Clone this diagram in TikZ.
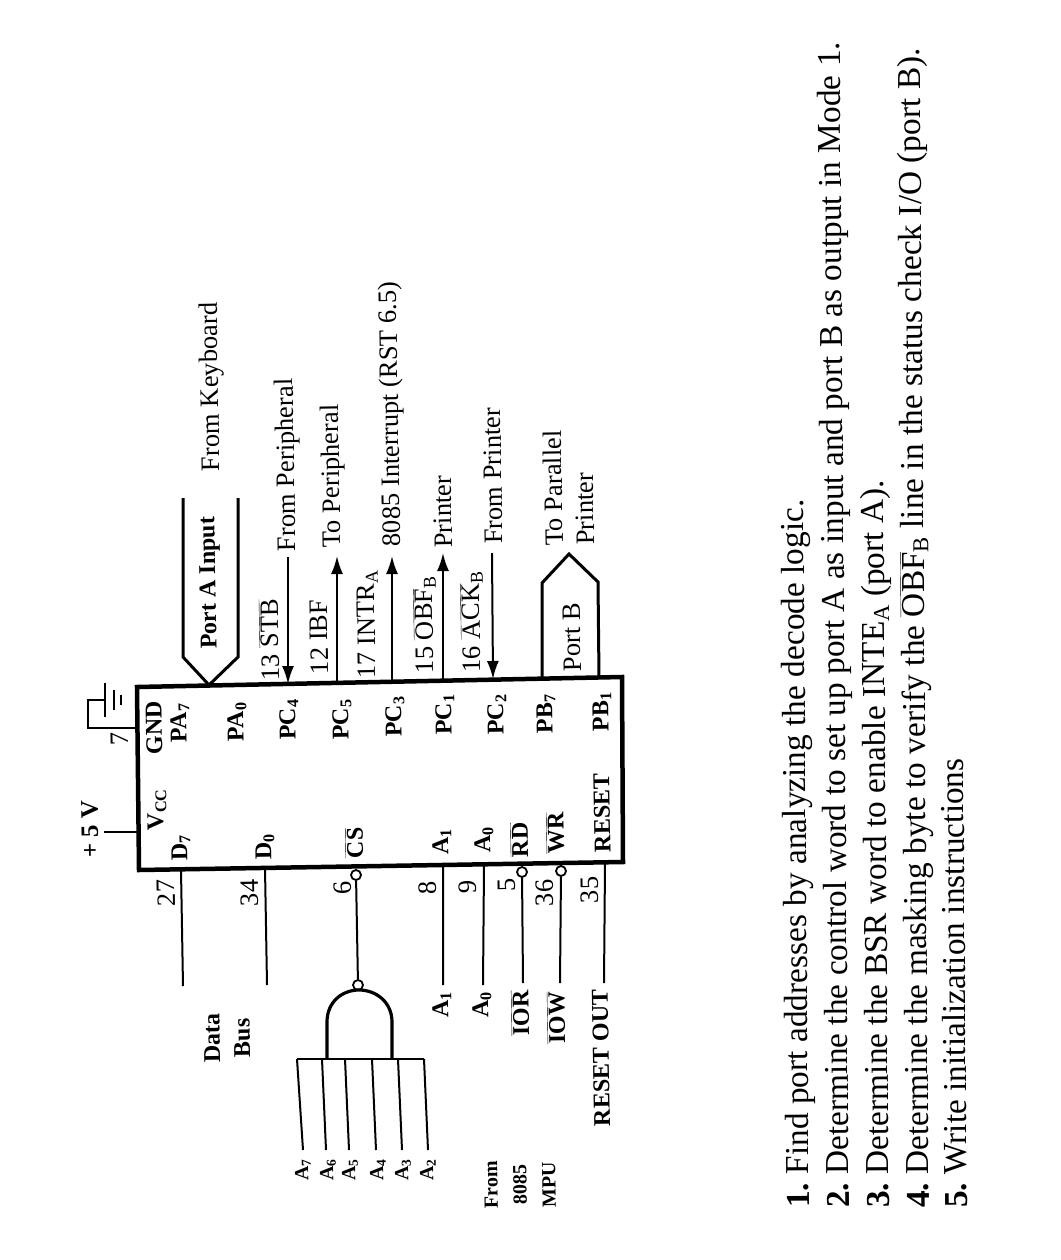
\documentclass[tikz,border=0pt]{standalone}
\usepackage{graphicx}
\usepackage{fontspec}
\setmainfont{Liberation Serif}
\usetikzlibrary{arrows.meta}
\newcommand\sbt[1]{\raisebox{-0.3ex}{\scalebox{0.68}{#1}}}
\newcommand\ovl[1]{$\overline{\hbox{#1}}$}
\tikzset{
  lab/.style={rotate=91,inner sep=0pt,font=\fontsize{26.5}{30}\selectfont},
  blab/.style={lab,font=\fontsize{24}{28}\selectfont\bfseries},
  slab/.style={lab,font=\fontsize{20}{24}\selectfont\bfseries},
  item/.style={rotate=90.45,inner sep=0pt,anchor=base west,font=\fontsize{33.4}{38}\selectfont},
  wire/.style={line width=2pt},
  bus/.style={line width=3pt,line join=miter},
  chip/.style={line width=4.5pt,line join=miter},
  arr/.style={wire,-{Latex[length=18pt,width=12pt]}},
  bub/.style={circle,draw,line width=1.8pt,fill=white,inner sep=0pt,minimum size=10pt},
}
\begin{document}
\begin{tikzpicture}[x=1pt,y=-1pt]
\path[use as bounding box,fill=white] (0,0) rectangle (1060,1260);
% chip
\coordinate (b1) at (137,687); \coordinate (b2) at (622,677);
\coordinate (b3) at (623,862); \coordinate (b4) at (139,870);
\draw[chip] (b1) -- (b2) -- (b3) -- (b4) -- cycle;
% power and ground
\coordinate (vccpin) at (137,832); \coordinate (vcc5) at (104,832);
\draw[wire] (vcc5) -- (vccpin);
\node[lab,font=\fontsize{25}{28}\selectfont\bfseries] (plus5) at (90,829) {+ 5 V};
\coordinate (gp) at (135,728); \coordinate (g1) at (88,728); \coordinate (g2) at (88,700); \coordinate (g3) at (105,700);
\draw[line width=2.2pt] (gp) -- (g1) -- (g2) -- (g3);
\coordinate (ga1) at (105,683); \coordinate (ga2) at (105,717);
\coordinate (gb1) at (114,690); \coordinate (gb2) at (114,710);
\coordinate (gc1) at (121,695); \coordinate (gc2) at (121,705);
\draw[line width=2.6pt] (ga1) -- (ga2) (gb1) -- (gb2) (gc1) -- (gc2);
\node[lab] (n7) at (120,739) {7};
% chip labels, right side
\node[blab] (lgnd) at (154,728) {GND};
\node[blab] (lpa7) at (180,723) {PA\sbt{7}};
\node[blab] (lpa0) at (237,722) {PA\sbt{0}};
\node[blab] (lpc4) at (289,720) {PC\sbt{4}};
\node[blab] (lpc5) at (342,720) {PC\sbt{5}};
\node[blab] (lpc3) at (395,717) {PC\sbt{3}};
\node[blab] (lpc1) at (445,715) {PC\sbt{1}};
\node[blab] (lpc2) at (497,715) {PC\sbt{2}};
\node[blab] (lpb7) at (546,714) {PB\sbt{7}};
\node[blab] (lpb1) at (602,712) {PB\sbt{1}};
% chip labels, left side
\node[blab] (lvcc) at (157,810) {V\sbt{CC}};
\node[blab] (ld7) at (181,848) {D\sbt{7}};
\node[blab] (ld0) at (265,847) {D\sbt{0}};
\node[blab] (lcs) at (354,843) {\ovl{CS}};
\node[blab] (la1) at (442,842) {A\sbt{1}};
\node[blab] (la0) at (484,840) {A\sbt{0}};
\node[blab] (lrd) at (519,840) {\ovl{RD}};
\node[blab] (lwr) at (555,833) {\ovl{WR}};
\node[blab] (lreset) at (602,813) {RESET};
% pin numbers, left
\node[lab] (n27) at (166,893) {27};
\node[lab] (n34) at (250,893) {34};
\node[lab] (n6) at (343,888) {6};
\node[lab] (n8) at (428,888) {8};
\node[lab] (n9) at (468,887) {9};
\node[lab] (n5) at (507,885) {5};
\node[lab] (n36) at (545,893) {36};
\node[lab] (n35) at (590,890) {35};
% left wires
\coordinate (d7a) at (181,870); \coordinate (d7b) at (183,986);
\coordinate (d0a) at (265,868); \coordinate (d0b) at (267,985);
\coordinate (a1a) at (443,866); \coordinate (a1b) at (443,985);
\coordinate (a0a) at (484,865); \coordinate (a0b) at (483,985);
\coordinate (rsa) at (605,863); \coordinate (rsb) at (604,983);
\coordinate (rdb) at (523,983); \coordinate (wrb) at (560,983);
\draw[wire] (d7a) -- (d7b) (d0a) -- (d0b) (a1a) -- (a1b) (a0a) -- (a0b) (rsa) -- (rsb);
\node[bub] (bcs) at (356,875) {};
\node[bub] (brd) at (522,872) {};
\node[bub] (bwr) at (561,871) {};
\node[bub] (bgate) at (358,985) {};
\draw[wire] (bcs) -- (bgate);
\draw[wire] (brd) -- (rdb);
\draw[wire] (bwr) -- (wrb);
% gate
\coordinate (gl) at (327,1058); \coordinate (gr) at (392,1058);
\draw[line width=3.2pt] (gl) -- (327,1022) .. controls (327,1002) and (342,990) .. (359,990) .. controls (376,990) and (392,1002) .. (392,1022) -- (gr);
\coordinate (base1) at (297,1059); \coordinate (base2) at (424,1059);
\draw[line width=2.4pt] (base1) -- (base2);
\coordinate (i7) at (303,1150); \coordinate (i6) at (326,1150); \coordinate (i5) at (349,1150);
\coordinate (i4) at (376,1150); \coordinate (i3) at (402,1150); \coordinate (i2) at (428,1150);
\draw[wire] (base1) -- (i7) (322,1059) -- (i6) (345,1059) -- (i5) (372,1059) -- (i4) (398,1059) -- (i3) (base2) -- (i2);
\node[slab] (la7) at (303,1170) {A\sbt{7}};
\node[slab] (la6) at (328,1170) {A\sbt{6}};
\node[slab] (la5) at (350,1170) {A\sbt{5}};
\node[slab] (la4) at (378,1170) {A\sbt{4}};
\node[slab] (la3) at (403,1170) {A\sbt{3}};
\node[slab] (la2) at (428,1170) {A\sbt{2}};
% left outer labels
\node[blab] (ldata) at (212,1038) {Data};
\node[blab] (lbus) at (242,1038) {Bus};
\node[blab] (oa1) at (442,1005) {A\sbt{1}};
\node[blab] (oa0) at (482,1005) {A\sbt{0}};
\node[blab] (oior) at (520,1013) {\ovl{IOR}};
\node[blab] (oiow) at (556,1018) {\ovl{IOW}};
\node[blab] (ores) at (601,1058) {RESET OUT};
\node[slab] (lfrom) at (491,1185) {From};
\node[slab] (l8085) at (520,1185) {8085};
\node[slab] (lmpu) at (549,1185) {MPU};
% port A bus
\coordinate (pa1) at (183,498); \coordinate (pa2) at (183,657); \coordinate (pa3) at (209,685);
\coordinate (pa4) at (238,657); \coordinate (pa5) at (238,498);
\draw[bus] (pa1) -- (pa2) -- (pa3) -- (pa4) -- (pa5);
\node[blab] (lporta) at (210,583) {Port A Input};
\node[lab] (lkey) at (212,387) {From Keyboard};
% port B bus
\coordinate (pb1) at (542,678); \coordinate (pb2) at (542,583); \coordinate (pb3) at (569,554);
\coordinate (pb4) at (598,582); \coordinate (pb5) at (599,677);
\draw[bus] (pb1) -- (pb2) -- (pb3) -- (pb4) -- (pb5);
\node[lab] (lportb) at (572,637) {Port B};
\node[lab] (lpar) at (553,488) {To Parallel};
\node[lab] (lpri2) at (585,509) {Printer};
% right signals
\coordinate (stb1) at (288,557); \coordinate (stb2) at (288,684);
\coordinate (ibf1) at (337,682); \coordinate (ibf2) at (337,556);
\coordinate (int1) at (392,680); \coordinate (int2) at (392,556);
\coordinate (obf1) at (443,680); \coordinate (obf2) at (443,553);
\coordinate (ack1) at (492,553); \coordinate (ack2) at (493,679);
\draw[arr] (stb1) -- (stb2);
\draw[arr] (ibf1) -- (ibf2);
\draw[arr] (int1) -- (int2);
\draw[arr] (obf1) -- (obf2);
\draw[arr] (ack1) -- (ack2);
\node[lab] (lstb) at (269,640) {13 \ovl{STB}};
\node[lab] (libf) at (319,637) {12 IBF};
\node[lab] (lintr) at (368,625) {17 INTR\sbt{A}};
\node[lab] (lobf) at (425,625) {15 \ovl{OBF}\sbt{B}};
\node[lab] (lackb) at (472,622) {16 \ovl{ACK}\sbt{B}};
\node[lab] (lfp) at (288,465) {From Peripheral};
\node[lab] (ltp) at (333,476) {To Peripheral};
\node[lab] (lirq) at (392,414) {8085 Interrupt (RST 6.5)};
\node[lab] (lpri1) at (443,512) {Printer};
\node[lab] (lfpr) at (493,476) {From Printer};
% list
\node[item] (t1) at (809,1208) {\textbf{1.}\ Find port addresses by analyzing the decode logic.};
\node[item] (t2) at (849,1208) {\textbf{2.}\ Determine the control word to set up port A as input and port B as output in Mode 1.};
\node[item] (t3) at (889,1208) {\textbf{3.}\ Determine the BSR word to enable INTE\sbt{A} (port A).};
\node[item] (t4) at (929,1208) {\textbf{4.}\ Determine the masking byte to verify the \ovl{OBF}\sbt{B} line in the status check I/O (port B).};
\node[item] (t5) at (967,1208) {\textbf{5.}\ Write initialization instructions};
\end{tikzpicture}
\end{document}
